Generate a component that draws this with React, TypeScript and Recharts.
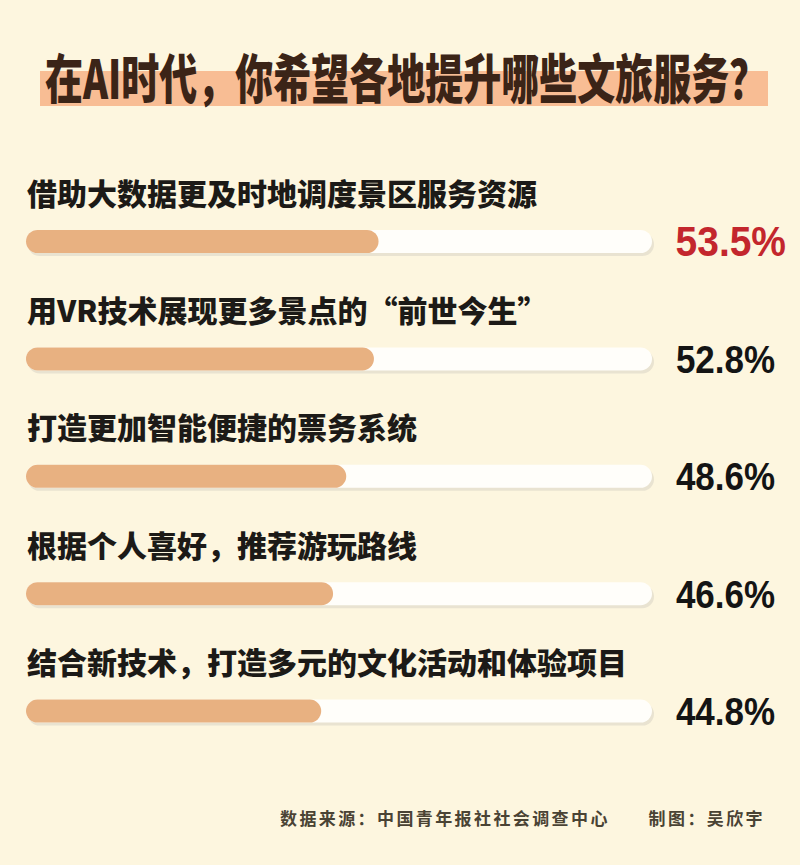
import React from 'react'
import { BarChart, Bar, XAxis, YAxis, LabelList, Rectangle } from 'recharts'

const categories = [
  '借助大数据更及时地调度景区服务资源',
  '用VR技术展现更多景点的“前世今生”',
  '打造更加智能便捷的票务系统',
  '根据个人喜好，推荐游玩路线',
  '结合新技术，打造多元的文化活动和体验项目',
]
const shares = [53.5, 52.8, 48.6, 46.6, 44.8]

const data = categories.map((name, i) => ({ name, value: shares[i] }))

const BG = '#fdf6df'
const CJK = '"Noto Sans CJK SC", "Noto Sans", sans-serif'
const NUM = '"Liberation Sans", Arial, sans-serif'

const Track = (props: any) => {
  const { x, y, width, height } = props
  return (
    <g>
      <Rectangle x={x + 2} y={y + 3} width={width} height={height} radius={height / 2} fill="#d9d4c4" opacity={0.55} />
      <Rectangle x={x} y={y} width={width} height={height} radius={height / 2} fill="#fffefa" />
    </g>
  )
}

const NameLabel = (props: any) => {
  const { y, height, value } = props
  return (
    <text x={27} y={y + height / 2 - 50} dominantBaseline="central" fontFamily={CJK} fontWeight={900} fontSize={30} fill="#1c1a17">
      {value}
    </text>
  )
}

const ValueLabel = (props: any) => {
  const { y, height, value, index } = props
  const top = index === 0
  const x = top ? 786 : 775
  return (
    <g transform={`translate(${x}, ${y + height / 2 + 14}) scale(${top ? 0.95 : 0.92}, 1.04)`}>
      <text
        x={0}
        y={0}
        textAnchor="end"
        fontFamily={NUM}
        fontWeight={700}
        fontSize={top ? 41 : 38}
        fill={top ? '#c3262d' : '#141414'}
      >
        {value.toFixed(1)}%
      </text>
    </g>
  )
}

export default function App() {
  return (
    <div style={{ position: 'absolute', left: 0, top: 0, width: 800, height: 865, background: BG, overflow: 'hidden' }}>
      <svg width={800} height={130} style={{ position: 'absolute', left: 0, top: 0 }}>
        <rect x={40} y={71} width={728} height={35} fill="#f8bd94" />
        <g transform="translate(45, 99) scale(1, 1.42)">
          <text x={0} y={0} fontFamily={CJK} fontWeight={900} fontSize={38} fill="#3b2417">
            在AI时代，你希望各地提升哪些文旅服务？
          </text>
        </g>
      </svg>
      <BarChart
        width={800}
        height={865}
        data={data}
        layout="vertical"
        margin={{ top: 183, right: 148, left: 26, bottom: 95 }}
        style={{ position: 'absolute', left: 0, top: 0 }}
      >
        <XAxis type="number" domain={[0, 95]} hide />
        <YAxis type="category" dataKey="name" hide />
        <Bar dataKey="value" barSize={23} fill="#e8b181" radius={11.5} background={<Track />} isAnimationActive={false}>
          <LabelList dataKey="name" content={<NameLabel />} />
          <LabelList dataKey="value" content={<ValueLabel />} />
        </Bar>
      </BarChart>
      <svg width={800} height={40} style={{ position: 'absolute', left: 0, top: 800 }}>
        <text x={280} y={25} fontFamily={CJK} fontWeight={700} fontSize={17} letterSpacing={2.4} fill="#4a4334">
          数据来源：中国青年报社社会调查中心　　制图：吴欣宇
        </text>
      </svg>
    </div>
  )
}
